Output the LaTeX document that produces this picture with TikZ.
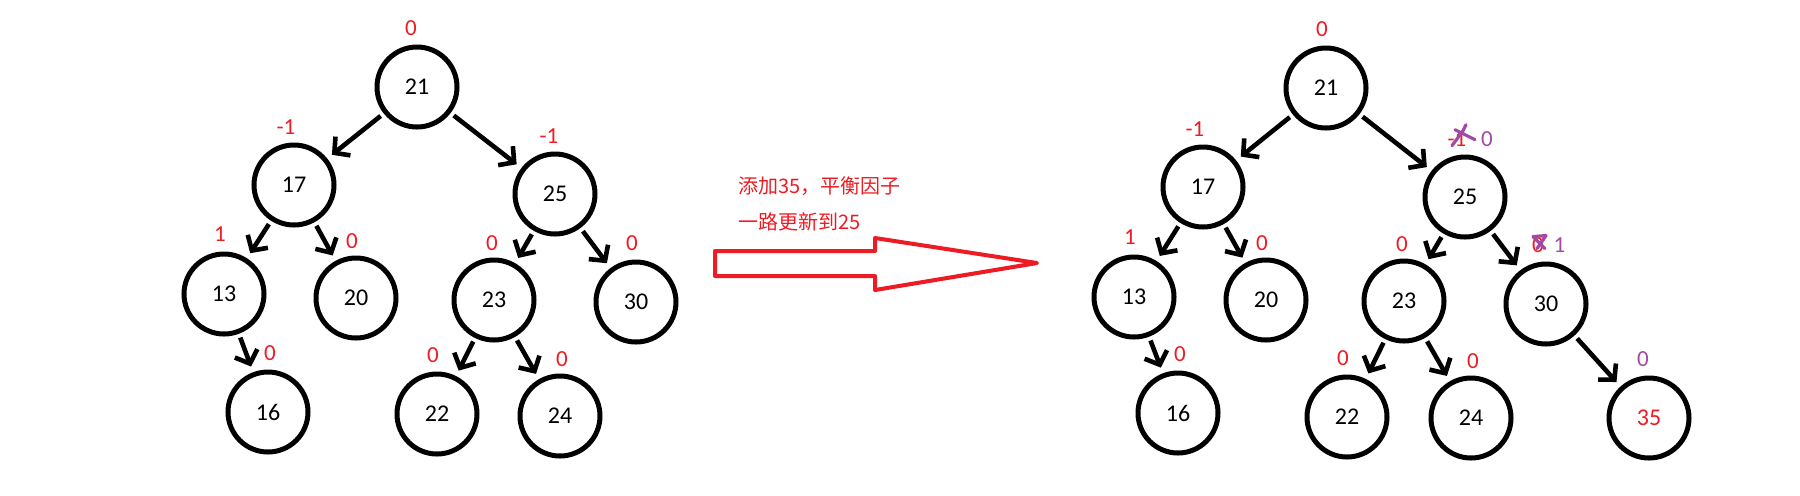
\documentclass[tikz,border=0pt]{standalone}
\usepackage{fontspec}
\setmainfont{Carlito}
\newfontfamily\cjkfont{Noto Sans CJK SC}
\usetikzlibrary{arrows.meta,positioning}

\definecolor{pred}{HTML}{ED1C24}
\definecolor{ppurple}{HTML}{A349A4}

\begin{document}
\begin{tikzpicture}[x=0.5pt,y=-0.5pt,>={Straight Barb[length=5.5pt,width=12pt]},
        key/.style={circle,draw,line width=2.5pt,minimum size=40pt,inner sep=0pt,
          font=\fontsize{12}{14}\selectfont},
        bal/.style={text=pred,inner sep=0pt,font=\fontsize{11.5}{13}\selectfont},
        newbal/.style={bal,text=ppurple},
        link/.style={->,line width=2.3pt,shorten >=3pt,shorten <=2pt},
        scrib/.style={draw=ppurple,line width=1.6pt,line cap=round,line join=round}]

  \useasboundingbox (0,0) rectangle (1800,495);

  % before
  \node[key] (l21) at (417,87) {21};
  \node[key] (l17) at (294,185) {17};
  \node[key] (l25) at (555,194) {25};
  \node[key] (l13) at (224,294) {13};
  \node[key] (l20) at (356,298) {20};
  \node[key] (l23) at (494,300) {23};
  \node[key] (l30) at (636,302) {30};
  \node[key] (l16) at (268,412) {16};
  \node[key] (l22) at (437,414) {22};
  \node[key] (l24) at (560,416) {24};

  \node[bal] (lb21) [above=4pt of l21,xshift=-3pt] {0};
  \node[bal] (lb17) [above=4pt of l17,xshift=-4pt] {-1};
  \node[bal] (lb25) [above=4pt of l25,xshift=-3pt] {-1};
  \node[bal] (lb13) [above=5pt of l13,xshift=-2pt] {1};
  \node[bal] (lb20) [above=3pt of l20,xshift=-2pt] {0};
  \node[bal] (lb23) [above=3pt of l23,xshift=-1pt] {0};
  \node[bal] (lb30) [above=4pt of l30,xshift=-2pt] {0};
  \node[bal] (lb16) [above=4pt of l16,xshift=1pt] {0};
  \node[bal] (lb22) [above=4pt of l22,xshift=-2pt] {0};
  \node[bal] (lb24) [above=3pt of l24,xshift=1pt] {0};

  \path[link] (l21) edge (l17) edge (l25)
              (l17) edge (l13) edge (l20)
              (l25) edge (l23) edge (l30)
              (l13) edge (l16)
              (l23) edge (l22) edge (l24);

  % big arrow and note
  \draw[pred,line width=2pt,line join=round] (715,251) -- (875,251) -- (875,238)
    -- (1037,263) -- (875,290) -- (875,276) -- (715,276) -- cycle;
  \node[text=pred,inner sep=0pt,anchor=west,align=left,
        font=\cjkfont\fontsize{10}{18}\selectfont] (note) at (738,204)
    {添加35，平衡因子\\一路更新到25};

  % after
  \node[key] (r21) at (1326,88) {21};
  \node[key] (r17) at (1203,187) {17};
  \node[key] (r25) at (1465,197) {25};
  \node[key] (r13) at (1134,297) {13};
  \node[key] (r20) at (1266,300) {20};
  \node[key] (r23) at (1404,301) {23};
  \node[key] (r30) at (1546,304) {30};
  \node[key] (r16) at (1178,413) {16};
  \node[key] (r22) at (1347,417) {22};
  \node[key] (r24) at (1471,418) {24};
  \node[key,text=pred] (r35) at (1649,418) {35};

  \node[bal] (rb21) [above=4pt of r21,xshift=-2pt] {0};
  \node[bal] (rb17) [above=4pt of r17,xshift=-4pt] {-1};
  \node[bal] (rb25) [above=4pt of r25,xshift=-4pt] {-1};
  \node[newbal] (rn25) [right=7pt of rb25] {0};
  \node[bal] (rb13) [above=5pt of r13,xshift=-2pt] {1};
  \node[bal] (rb20) [above=3pt of r20,xshift=-2pt] {0};
  \node[bal] (rb23) [above=3pt of r23,xshift=-1pt] {0};
  \node[bal] (rb30) [above=4pt of r30,xshift=-4pt] {0};
  \node[newbal] (rn30) [right=4.5pt of rb30] {1};
  \node[bal] (rb16) [above=4pt of r16,xshift=1pt] {0};
  \node[bal] (rb22) [above=4pt of r22,xshift=-2pt] {0};
  \node[bal] (rb24) [above=3pt of r24,xshift=1pt] {0};
  \node[newbal] (rn35) [above=4pt of r35,xshift=-3pt] {0};

  \draw[scrib] ([shift={(-5,7)}]rb25.center) -- ([shift={(6,-8)}]rb25.center)
               -- ([shift={(9,-14)}]rb25.center)
               ([shift={(-2,-9)}]rb25.center) -- ([shift={(18,1)}]rb25.center);
  \draw[scrib] ([shift={(-1,3)}]rb30.center) -- ([shift={(8,-10)}]rb30.center)
               -- ([shift={(-5,-9)}]rb30.center) -- ([shift={(7,3)}]rb30.center);

  \path[link] (r21) edge (r17) edge (r25)
              (r17) edge (r13) edge (r20)
              (r25) edge (r23) edge (r30)
              (r13) edge (r16)
              (r23) edge (r22) edge (r24)
              (r30) edge (r35);

\end{tikzpicture}
\end{document}
